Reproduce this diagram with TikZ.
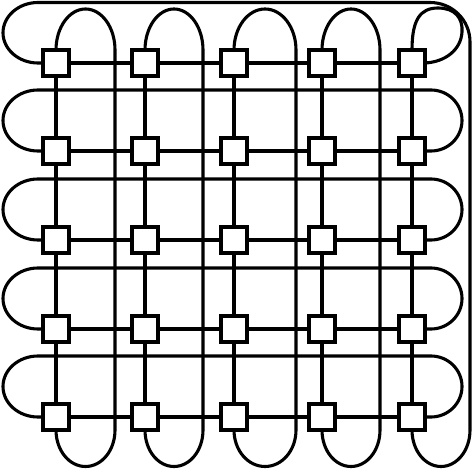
\documentclass[tikz,border=0pt]{standalone}
\begin{document}
\begin{tikzpicture}[x=1pt,y=-1pt,
  pe/.style={draw, fill=white, line width=4pt, minimum size=26pt, inner sep=0pt, outer sep=0pt},
  link/.style={line width=3.1pt, line join=round}]
\useasboundingbox[fill=white] (0,0) rectangle (474,470);
% processing elements
\foreach \r/\y in {1/63,2/151,3/240,4/329,5/417}
  \foreach \c/\x in {1/56,2/145,3/234,4/322,5/412}
    \node[pe] (n-\r-\c) at (\x,\y) {};
% mesh links
\foreach \r in {1,...,5}
  \foreach \c/\d in {1/2,2/3,3/4,4/5}
    \draw[link] (n-\r-\c) -- (n-\r-\d);
\foreach \c in {1,...,5}
  \foreach \r/\s in {1/2,2/3,3/4,4/5}
    \draw[link] (n-\r-\c) -- (n-\s-\c);
% column wrap-around links (columns 1-4)
\foreach \c/\rx in {1/29.5,2/29,3/31,4/29}{
  \pgfmathsetmacro\kx{0.5523*\rx}
  \draw[link] (n-1-\c.north) .. controls +(0,-22.6) and +(-\kx,0) .. ++(\rx,-41)
     .. controls +(\kx,0) and +(0,-22.6) .. ++(\rx,41)
     -- ++(0,380)
     .. controls +(0,20.4) and +(\kx,0) .. ++(-\rx,36.5)
     .. controls +(-\kx,0) and +(0,20.4) .. (n-5-\c.south);
}
% row wrap-around links (rows 2-5)
\foreach \r in {2,...,5}{
  \draw[link] (n-\r-1.west) -- ++(-5,0)
     .. controls +(-19.3,0) and +(0,16.85) .. ++(-35,-30.5)
     .. controls +(0,-16.85) and +(-19.3,0) .. ++(35,-30.5)
     -- ++(393,0)
     .. controls +(17.1,0) and +(0,-16.85) .. ++(31,30.5)
     .. controls +(0,16.85) and +(17.1,0) .. ++(-31,30.5)
     -- (n-\r-5.east);
}
% row 1 / column 5 outer wrap
\coordinate (tl) at (38,2.5);
\coordinate (tr) at (430,2.5);
\coordinate (rc) at (470,42);
\draw[link] (n-1-1.west) -- ++(-5,0)
     .. controls +(-19.3,0) and +(0,16.6) .. ++(-35,-30.25)
     .. controls +(0,-16.6) and +(-19.3,0) .. (tl)
     -- (tr)
     .. controls +(22.1,0) and +(0,-22.1) .. (rc)
     -- (470,430)
     .. controls +(0,20.4) and +(16,0) .. ++(-29,36.5)
     .. controls +(-16,0) and +(0,20.4) .. (n-5-5.south);
% top-right loop
\draw[link] (n-1-5.north) .. controls (412,20) and (420,8) .. (438,8)
     .. controls (455,8) and (463,18) .. (462,32)
     .. controls (461,50) and (445,62) .. (n-1-5.east);
\end{tikzpicture}
\end{document}
